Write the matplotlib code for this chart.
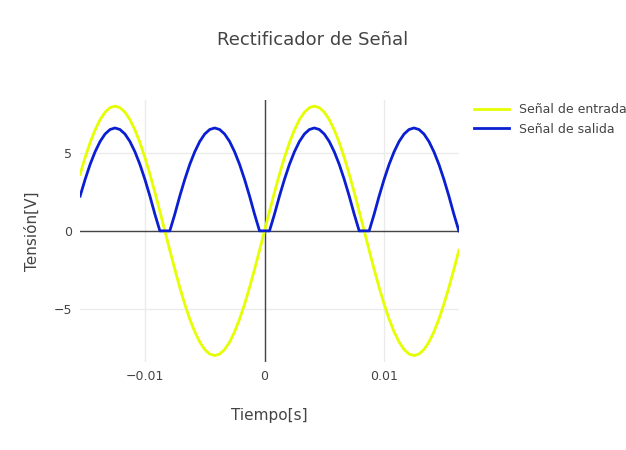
import numpy as np
import matplotlib.pyplot as plt

entrada = [3.63,4.70,5.66,6.47,7.13,7.61,7.90,8,7.90,7.61,7.13,6.47,5.66,4.70,3.63,2.47,1.25,0,
           -1.25,-2.47,-3.63,-4.70,-5.66,-6.47,-7.13,-7.61,-7.90,-8,-7.90,-7.61,-7.13,-6.47,-5.66,-4.70,-3.63,-2.47,-1.25,
           0,1.25,2.47,3.63,4.70,5.66,6.47,7.13,7.61,7.90,8,7.90,7.61,7.13,6.47,5.66,4.70,3.63,2.47,1.25,0,
           -1.25,-2.47,-3.63,-4.70,-5.66,-6.47,-7.13,-7.61,-7.90,-8,-7.90,-7.61,-7.13,-6.47,-5.66,-4.70,-3.63,-2.47,-1.25]
salida = [2.23,3.30,4.26,5.07,5.73,6.21,6.50,6.6,6.50,6.21,5.73,5.07,4.26,3.30,2.23,1.07,0,0,
          0,1.07,2.23,3.30,4.26,5.07,5.73,6.21,6.50,6.6,6.50,6.21,5.73,5.07,4.26,3.30,2.23,1.07,0,
          0,0,1.07,2.23,3.30,4.26,5.07,5.73,6.21,6.50,6.6,6.50,6.21,5.73,5.07,4.26,3.30,2.23,1.07,0,0,
          0,1.07,2.23,3.30,4.26,5.07,5.73,6.21,6.50,6.6,6.50,6.21,5.73,5.07,4.26,3.30,2.23,1.07,0]
tiempo = np.linspace(-0.015417, 0.01625, len(entrada))

fig = plt.figure(figsize=(6.26, 4.5), dpi=100)
ax = fig.add_axes([0.128, 0.196, 0.605, 0.582])
ax.plot(tiempo, entrada, color='#e5ff00', lw=2, label='Señal de entrada')
ax.plot(tiempo, salida, color='#0a1fd1', lw=2, label='Señal de salida')
ax.set_xlim(tiempo[0], tiempo[-1])
ax.set_ylim(-8.4, 8.4)
ax.set_xticks([-0.01, 0, 0.01]); ax.set_xticklabels(['−0.01', '0', '0.01'])
ax.set_yticks([-5, 0, 5]); ax.set_yticklabels(['−5', '0', '5'])
ax.grid(color='#ebebeb', lw=1)
ax.set_axisbelow(True)
ax.axhline(0, color='#444444', lw=1, zorder=1)
ax.axvline(0, color='#444444', lw=1, zorder=1)
for s in ax.spines.values():
    s.set_visible(False)
ax.tick_params(length=0, labelsize=9, colors='#444444', pad=6)
ax.set_xlabel('Tiempo[s]', fontsize=11, color='#444444', labelpad=18)
ax.set_ylabel('Tensión[V]', fontsize=11, color='#444444', labelpad=10)
fig.text(0.5, 0.9, 'Rectificador de Señal', ha='center', fontsize=13, color='#444444')
ax.legend(loc='upper left', bbox_to_anchor=(1.01, 1.03), frameon=False, fontsize=9,
          labelcolor='#444444', handlelength=2.8)
fig.savefig('out.png')
